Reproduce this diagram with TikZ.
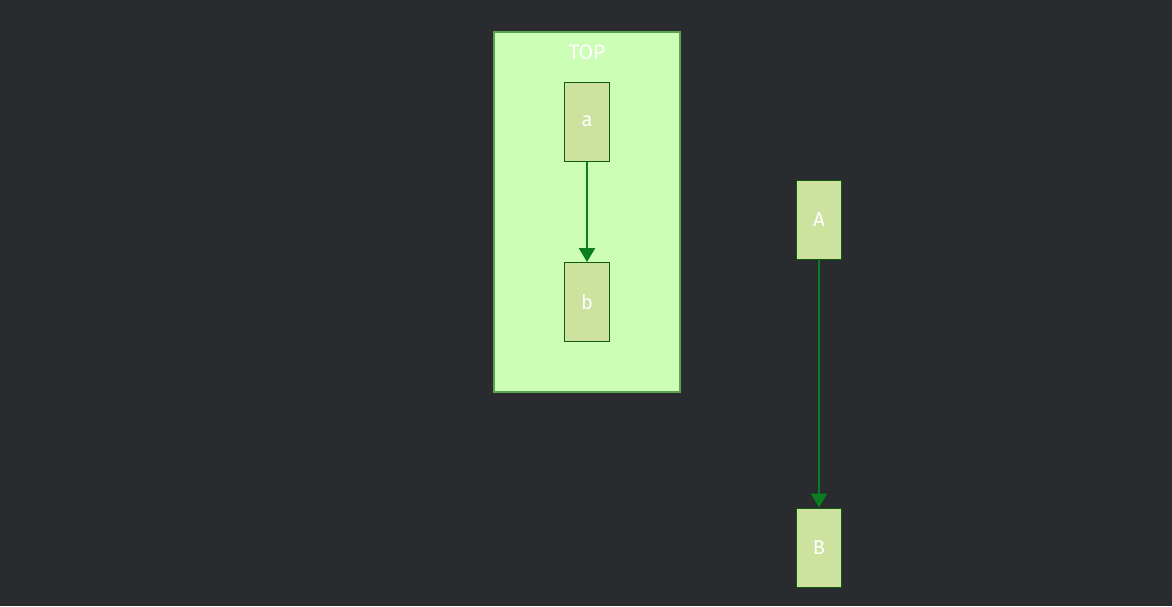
\documentclass[tikz,border=0pt]{standalone}
\usepackage{fontspec}
\setmainfont{Fira Sans}
\usetikzlibrary{arrows.meta}
\definecolor{bg}{HTML}{2A2B2F}
\definecolor{clfill}{HTML}{CCFFB5}
\definecolor{clline}{HTML}{5AA34A}
\definecolor{nfill}{HTML}{CDE29E}
\definecolor{nline}{HTML}{0E5A10}
\definecolor{edge}{HTML}{0A7D1E}
\tikzset{
  box/.style={draw=nline,fill=nfill,line width=1pt,minimum width=45pt,minimum height=79pt,inner sep=0pt,text=white,font=\fontsize{20}{24}\selectfont},
  edg/.style={draw=edge,line width=2.5pt,-{Triangle[length=14pt,width=16pt]}}
}
\begin{document}
\begin{tikzpicture}[x=1pt,y=-1pt]
\fill[bg] (0,0) rectangle (1172,606);
\useasboundingbox (0,0) rectangle (1172,606);
\draw[clline,fill=clfill,line width=1.2pt] (494,32) rectangle (680,392);
\node[text=white,font=\fontsize{21}{24}\selectfont] (top) at (587,52) {TOP};
\node[box] (a) at (587,121.5) {a};
\node[box] (b) at (587,302) {b};
\node[box] (A) at (819,220) {A};
\node[box] (B) at (819,547.5) {B};
\draw[edg] (a) -- (b);
\draw[edg] (A) -- (B);
\end{tikzpicture}
\end{document}
